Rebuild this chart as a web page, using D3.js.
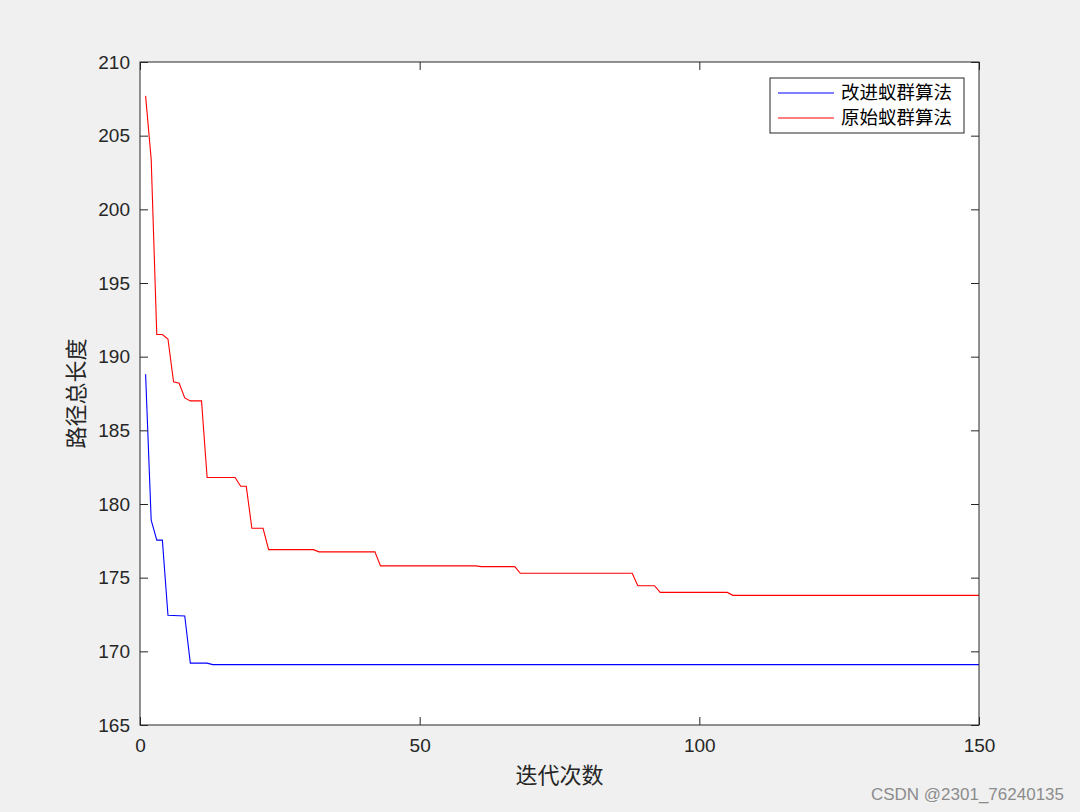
<!DOCTYPE html>
<html>
<head>
<meta charset="utf-8">
<script src="https://cdn.jsdelivr.net/npm/d3@7"></script>
<style>
  html, body { margin: 0; padding: 0; background: #f0f0f0; }
  svg { display: block; }
</style>
</head>
<body>
<div id="vis"></div>
<script>
// 数据: 迭代次数 / 路径总长度 (只记录转折点, 平段由直线连接)
const improvedIter = [1, 2, 3, 4, 5, 8, 9, 12, 13, 150];
const improvedLen = [188.8, 178.9, 177.55, 177.55, 172.45, 172.4, 169.2, 169.2, 169.1, 169.1];

const originalIter = [1, 2, 3, 4, 5, 6, 7, 8, 9, 11, 12, 17, 18, 19, 20, 22, 23, 31, 32, 42,
  43, 60, 61, 67, 68, 88, 89, 92, 93, 105, 106, 150];
const originalLen = [207.7, 203.4, 191.5, 191.5, 191.2, 188.3, 188.2, 187.2, 187.0, 187.0,
  181.8, 181.8, 181.2, 181.2, 178.35, 178.35, 176.9, 176.9, 176.75, 176.75,
  175.8, 175.8, 175.75, 175.75, 175.3, 175.3, 174.45, 174.45, 174.0, 174.0, 173.8, 173.8];

const xTicks = [0, 50, 100, 150];
const yTicks = [165, 170, 175, 180, 185, 190, 195, 200, 205, 210];

const seriesNames = ['改进蚁群算法', '原始蚁群算法'];
const seriesColors = ['#0000ff', '#ff0000'];

const WIDTH_VIS = 1080;
const HEIGHT_VIS = 812;
const PLOT = { left: 140, right: 979, top: 62, bottom: 725 };

const AXIS_COLOR = '#262626';
const NUM_FONT = '"Liberation Sans", Arial, Helvetica, sans-serif';
const CJK_FONT = '"Noto Sans CJK SC", "Noto Sans", sans-serif';

const SVG = d3.select('#vis').append('svg')
  .attr('width', WIDTH_VIS)
  .attr('height', HEIGHT_VIS);

SVG.append('rect')
  .attr('width', WIDTH_VIS).attr('height', HEIGHT_VIS)
  .attr('fill', '#f0f0f0');

const x = d3.scaleLinear().domain([0, 150]).range([PLOT.left, PLOT.right]);
const y = d3.scaleLinear().domain([165, 210]).range([PLOT.bottom, PLOT.top]);

// 白色绘图区
SVG.append('rect')
  .attr('x', PLOT.left).attr('y', PLOT.top)
  .attr('width', PLOT.right - PLOT.left)
  .attr('height', PLOT.bottom - PLOT.top)
  .attr('fill', '#ffffff');

// 曲线
const series = [
  { iter: improvedIter, len: improvedLen },
  { iter: originalIter, len: originalLen },
];

const line = d3.line()
  .x((d) => x(d[0]))
  .y((d) => y(d[1]));

series.forEach((s, i) => {
  SVG.append('path')
    .datum(s.iter.map((it, k) => [it, s.len[k]]))
    .attr('d', line)
    .attr('fill', 'none')
    .attr('stroke', seriesColors[i])
    .attr('stroke-width', 1.1);
});

// 坐标轴 (刻度朝内, 四边都有)
function styleAxis(g) {
  g.select('.domain').remove();
  g.selectAll('.tick line').attr('stroke', AXIS_COLOR);
  g.selectAll('.tick text')
    .attr('fill', AXIS_COLOR)
    .attr('font-family', NUM_FONT)
    .attr('font-size', 19);
}

SVG.append('g')
  .attr('transform', `translate(0,${PLOT.bottom})`)
  .call(d3.axisBottom(x).tickValues(xTicks).tickSizeInner(-8).tickSizeOuter(0).tickPadding(14))
  .call(styleAxis);

SVG.append('g')
  .attr('transform', `translate(0,${PLOT.top})`)
  .call(d3.axisTop(x).tickValues(xTicks).tickSizeInner(-8).tickSizeOuter(0).tickFormat(''))
  .call(styleAxis);

SVG.append('g')
  .attr('transform', `translate(${PLOT.left},0)`)
  .call(d3.axisLeft(y).tickValues(yTicks).tickSizeInner(-8).tickSizeOuter(0).tickPadding(10))
  .call(styleAxis);

SVG.append('g')
  .attr('transform', `translate(${PLOT.right},0)`)
  .call(d3.axisRight(y).tickValues(yTicks).tickSizeInner(-8).tickSizeOuter(0).tickFormat(''))
  .call(styleAxis);

// 边框
SVG.append('rect')
  .attr('x', PLOT.left).attr('y', PLOT.top)
  .attr('width', PLOT.right - PLOT.left)
  .attr('height', PLOT.bottom - PLOT.top)
  .attr('fill', 'none')
  .attr('stroke', AXIS_COLOR)
  .attr('stroke-width', 1);

// 轴标签
SVG.append('text')
  .attr('x', (PLOT.left + PLOT.right) / 2)
  .attr('y', 783)
  .attr('text-anchor', 'middle')
  .attr('font-family', CJK_FONT)
  .attr('font-size', 22)
  .attr('fill', AXIS_COLOR)
  .text('迭代次数');

SVG.append('text')
  .attr('transform', `translate(84,${(PLOT.top + PLOT.bottom) / 2}) rotate(-90)`)
  .attr('text-anchor', 'middle')
  .attr('font-family', CJK_FONT)
  .attr('font-size', 22)
  .attr('fill', AXIS_COLOR)
  .text('路径总长度');

// 图例
const legend = SVG.append('g').attr('transform', 'translate(770,78)');
legend.append('rect')
  .attr('width', 194).attr('height', 55)
  .attr('fill', '#ffffff')
  .attr('stroke', AXIS_COLOR)
  .attr('stroke-width', 1);

seriesNames.forEach((name, i) => {
  const row = legend.append('g').attr('transform', `translate(0,${15 + i * 25})`);
  row.append('line')
    .attr('x1', 8).attr('x2', 64)
    .attr('stroke', seriesColors[i])
    .attr('stroke-width', 1.1);
  row.append('text')
    .attr('x', 71)
    .attr('dy', '0.35em')
    .attr('font-family', CJK_FONT)
    .attr('font-size', 18.5)
    .attr('fill', '#000000')
    .text(name);
});

// 水印
SVG.append('text')
  .attr('x', 1064)
  .attr('y', 800)
  .attr('text-anchor', 'end')
  .attr('font-family', NUM_FONT)
  .attr('font-size', 17)
  .attr('fill', '#8c8c8c')
  .text('CSDN @2301_76240135');
</script>
</body>
</html>
